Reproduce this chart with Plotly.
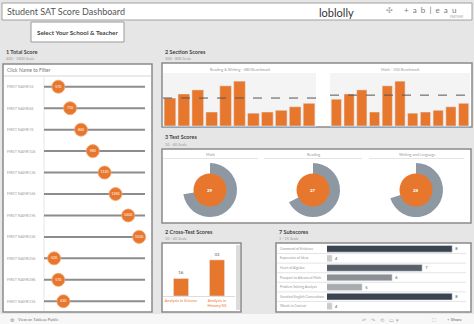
import plotly.graph_objects as go

W, H = 474, 324
def px(x): return x / W
def py(y): return 1 - y / H

# ---------------- data ----------------
STUDENTS = ["FIRST NAME16", "FIRST NAME46", "FIRST NAME76", "FIRST NAME106", "FIRST NAME136",
            "FIRST NAME166", "FIRST NAME196", "FIRST NAME226", "FIRST NAME256", "FIRST NAME286",
            "FIRST NAME316"]
TOTAL_SCORES = [570, 710, 840, 980, 1120, 1250, 1400, 1530, 520, 570, 630]
TOTAL_MIN, TOTAL_MAX = 400, 1600

RW_SCORES = [480, 550, 620, 240, 690, 770, 220, 240, 270, 330, 390]
MATH_SCORES = [460, 550, 620, 240, 690, 770, 220, 240, 270, 330, 390]
RW_BENCH, MATH_BENCH = 480, 530

TEST_NAMES = ["Math", "Reading", "Writing and Language"]
TEST_SCORES = [29, 27, 28]
TEST_MAX = 40

CROSS_NAMES = ["Analysis in Science", "Analysis in<br>History/SS"]
CROSS_SCORES = [16, 33]

SUB_NAMES = ["Command of Evidence", "Expression of Ideas", "Heart of Algebra",
             "Passport to Advanced Math", "Problem Solving Analysis",
             "Standard English Conventions", "Words in Context"]
SUB_SCORES = [8, 4, 7, 6, 5, 8, 4]

ORANGE = "#e8772e"
GRAY_RING = "#8e98a3"
FONT = "Lato"

fig = go.Figure()
shapes = []
ann = []

def rect(x0, y0, x1, y1, fill, line="rgba(0,0,0,0)", width=0, layer="below"):
    shapes.append(dict(type="rect", xref="paper", yref="paper", x0=px(x0), x1=px(x1),
                       y0=py(y1), y1=py(y0), fillcolor=fill,
                       line=dict(color=line, width=width), layer=layer))

def hline(x0, x1, y, color="#e2e2e2", width=1):
    shapes.append(dict(type="line", xref="paper", yref="paper", x0=px(x0), x1=px(x1),
                       y0=py(y), y1=py(y), line=dict(color=color, width=width), layer="below"))

def text(x, y, s, size=5, color="#555", anchor="left", bold=False):
    ann.append(dict(xref="paper", yref="paper", x=px(x), y=py(y), text=("<b>%s</b>" % s if bold else s),
                    showarrow=False, xanchor=anchor, yanchor="middle",
                    font=dict(size=size, color=color, family=FONT)))

# ---------------- panels / chrome ----------------
rect(0, 314, 474, 324, "#f7f7f7")
rect(2, 3, 472, 20, "white", "#a0a0a0", 1)
text(5, 11.5, "Student SAT Score Dashboard", 9, "#555")
text(336, 13, "loblolly", 11, "#333", "center")
text(389, 9.5, "✣", 8, "#a0a0a0", "center")
text(430, 9.5, "+  a  b  |  e  a  u", 8, "#777", "center")
text(456, 16.5, "PARTNER", 3, "#aaa", "center")

shapes.append(dict(type="rect", xref="paper", yref="paper", x0=px(31), x1=px(124),
                   y0=py(42), y1=py(22), fillcolor="white",
                   line=dict(color="#999", width=1), layer="below"))
text(77.5, 32, "Select Your School &amp; Teacher", 6.3, "#444", "center", True)

# section titles
text(4, 51.5, "1 Total Score", 5.5, "#444", bold=True)
text(4, 58.5, "400 - 1600 Scale", 3.8, "#999")
text(163, 51.5, "2 Section Scores", 5.5, "#444", bold=True)
text(163, 58.5, "200 - 800 Scale", 3.8, "#999")
text(163, 137, "3 Test Scores", 5.5, "#444", bold=True)
text(163, 144, "10 - 40 Scale", 3.8, "#999")
text(163, 232, "2 Cross-Test Scores", 5.5, "#444", bold=True)
text(163, 239, "10 - 40 Scale", 3.8, "#999")
text(277, 232, "7 Subscores", 5.5, "#444", bold=True)
text(277, 239, "1 - 15 Scale", 3.8, "#999")

# panels
rect(3, 64, 152, 312, "white", "#8a8a8a", 1.5)
rect(162, 63, 472, 127, "white", "#8a8a8a", 1.5)
rect(162, 149, 471, 223, "white", "#8a8a8a", 1.5)
rect(162, 243, 241, 312, "white", "#8a8a8a", 1.5)
rect(276, 243, 471, 312, "white", "#8a8a8a", 1.5)
rect(236, 245, 240, 310, "#dcdcdc")

# total score panel decorations
text(5, 70, "Click Name to Filter", 5, "#777")
hline(4, 151, 76, "#d5d5d5")
shapes.append(dict(type="line", xref="paper", yref="paper", x0=px(44), x1=px(44),
                   y0=py(311), y1=py(76), line=dict(color="#e6e6e6", width=1), layer="below"))

# footer
text(8, 319.5, "⚙", 5, "#888")
text(16, 319.5, "View on Tableau Public", 4, "#777")
text(360, 319.5, "↶    ↷    ⟲    ▭ ▾", 5, "#aaa")
text(430, 319.5, "⛶", 5, "#999")
text(445, 319.5, "< Share", 4.5, "#666")

# ---------------- 1 Total Score ----------------
tx, ty = [], []
for n in STUDENTS:
    tx += [TOTAL_MIN, TOTAL_MAX, None]
    ty += [n, n, None]
fig.add_trace(go.Scatter(x=tx, y=ty, mode="lines", line=dict(color="#8c8c8c", width=2),
                         xaxis="x", yaxis="y", hoverinfo="skip", showlegend=False))
fig.add_trace(go.Scatter(x=TOTAL_SCORES, y=STUDENTS, mode="markers+text",
                         marker=dict(size=13, color=ORANGE, line=dict(color="#f3a66e", width=0.8)),
                         text=[str(v) for v in TOTAL_SCORES], textposition="middle center",
                         textfont=dict(size=3.5, color="white", family=FONT),
                         xaxis="x", yaxis="y", cliponaxis=False, showlegend=False))
for n in STUDENTS:
    ann.append(dict(xref="paper", yref="y", x=px(5), y=n, text=n, showarrow=False,
                    xanchor="left", font=dict(size=3.8, color="#a0a0a0", family=FONT)))

# ---------------- 2 Section Scores ----------------
fig.add_trace(go.Bar(x=STUDENTS, y=RW_SCORES, marker_color=ORANGE, width=0.84,
                     xaxis="x2", yaxis="y2", showlegend=False))
fig.add_trace(go.Bar(x=STUDENTS, y=MATH_SCORES, marker_color=ORANGE, width=0.8,
                     xaxis="x3", yaxis="y3", showlegend=False))
for xa, ya, b in (("x2", "y2", RW_BENCH), ("x3", "y3", MATH_BENCH)):
    shapes.append(dict(type="rect", xref=xa + " domain", yref=ya + " domain", x0=0, x1=1, y0=0, y1=1,
                       fillcolor="#f4f4f4", line=dict(width=0), layer="below"))
    shapes.append(dict(type="line", xref=xa + " domain", yref=ya, x0=0, x1=1, y0=b, y1=b,
                       line=dict(color="#555", width=1, dash="dash")))
text(239.5, 69, "Reading &amp; Writing - %d Benchmark" % RW_BENCH, 3.8, "#999", "center")
text(400, 69, "Math - %d Benchmark" % MATH_BENCH, 3.8, "#999", "center")

# ---------------- 3 Test Scores ----------------
centers = [210, 313, 416]
col_spans = [(163, 258), (264, 362), (369, 464)]
R_OUT, R_IN = 27, 16.5
for name, sc, cx, (c0, c1) in zip(TEST_NAMES, TEST_SCORES, centers, col_spans):
    cy = 190
    fig.add_trace(go.Pie(values=[sc, TEST_MAX - sc], sort=False, direction="clockwise", rotation=0,
                         marker=dict(colors=[GRAY_RING, "rgba(0,0,0,0)"], line=dict(width=0)),
                         textinfo="none", hoverinfo="skip", showlegend=False,
                         domain=dict(x=[px(cx - R_OUT), px(cx + R_OUT)], y=[py(cy + R_OUT), py(cy - R_OUT)])))
    fig.add_trace(go.Pie(values=[sc], sort=False, marker=dict(colors=[ORANGE], line=dict(width=0)),
                         textinfo="none", hoverinfo="skip", showlegend=False,
                         domain=dict(x=[px(cx - R_IN), px(cx + R_IN)], y=[py(cy + R_IN), py(cy - R_IN)])))
    text(cx, cy, str(sc), 4.5, "white", "center", True)
    text((c0 + c1) / 2, 154, name, 3.8, "#999", "center")
    hline(c0, c1, 158.5, "#e4e4e4")

# ---------------- Cross-Test ----------------
fig.add_trace(go.Bar(x=CROSS_NAMES, y=CROSS_SCORES, marker_color=ORANGE, width=0.42,
                     text=[str(v) for v in CROSS_SCORES], textposition="outside",
                     textfont=dict(size=4.5, color="#555", family=FONT), cliponaxis=False,
                     xaxis="x4", yaxis="y4", showlegend=False))

# ---------------- Subscores ----------------
fig.add_trace(go.Bar(y=SUB_NAMES, x=SUB_SCORES, orientation="h", width=0.7,
                     marker=dict(color=SUB_SCORES, colorscale=[[0, "#cbcbcb"], [0.25, "#a9abad"],
                                                               [0.5, "#8c8f93"], [0.75, "#5a6069"],
                                                               [1, "#3c4450"]], cmin=4, cmax=8),
                     text=[str(v) for v in SUB_SCORES], textposition="outside",
                     textfont=dict(size=4, color="#444", family=FONT), cliponaxis=False,
                     xaxis="x5", yaxis="y5", showlegend=False))
for i in range(len(SUB_NAMES) - 1):
    shapes.append(dict(type="line", xref="paper", yref="y5", x0=px(277), x1=px(466),
                       y0=i + 0.5, y1=i + 0.5, line=dict(color="#e4e4e4", width=1), layer="below"))
for n in SUB_NAMES:
    ann.append(dict(xref="paper", yref="y5", x=px(278), y=n, text=n, showarrow=False,
                    xanchor="left", font=dict(size=3.4, color="#999", family=FONT)))

hid = dict(visible=False, showgrid=False, zeroline=False, fixedrange=True)
fig.update_layout(
    width=W, height=H, margin=dict(l=0, r=0, t=0, b=0),
    paper_bgcolor="#e6e6e6", plot_bgcolor="rgba(0,0,0,0)",
    font=dict(family=FONT), bargap=0.15,
    xaxis=dict(domain=[px(44), px(145)], range=[TOTAL_MIN, TOTAL_MAX], anchor="y", **hid),
    yaxis=dict(domain=[py(312), py(76)], type="category", range=[len(STUDENTS) - 0.5, -0.5],
               anchor="x", **hid),
    xaxis2=dict(domain=[px(163), px(316)], anchor="y2", type="category", showticklabels=False,
                showgrid=False, zeroline=False, showline=True, linecolor="#a8c6e4", linewidth=1, ticks=""),
    yaxis2=dict(domain=[py(126), py(73)], range=[0, 910], anchor="x2", **hid),
    xaxis3=dict(domain=[px(330), px(470)], anchor="y3", type="category", showticklabels=False,
                showgrid=False, zeroline=False, showline=True, linecolor="#a8c6e4", linewidth=1, ticks=""),
    yaxis3=dict(domain=[py(126), py(73)], range=[0, 910], anchor="x3", **hid),
    xaxis4=dict(domain=[px(163), px(235)], anchor="y4", type="category", showgrid=False,
                zeroline=False, showline=True, linecolor="#dddddd", ticks="",
                tickfont=dict(size=4, color=ORANGE, family=FONT)),
    yaxis4=dict(domain=[py(296), py(250)], range=[0, 42], anchor="x4", **hid),
    xaxis5=dict(domain=[px(327), px(463)], range=[3.83, 8.36], anchor="y5", **hid),
    yaxis5=dict(domain=[py(311), py(244)], type="category", range=[len(SUB_NAMES) - 0.5, -0.5],
                anchor="x5", **hid),
    shapes=shapes, annotations=ann,
)

fig.write_html("out.html")
